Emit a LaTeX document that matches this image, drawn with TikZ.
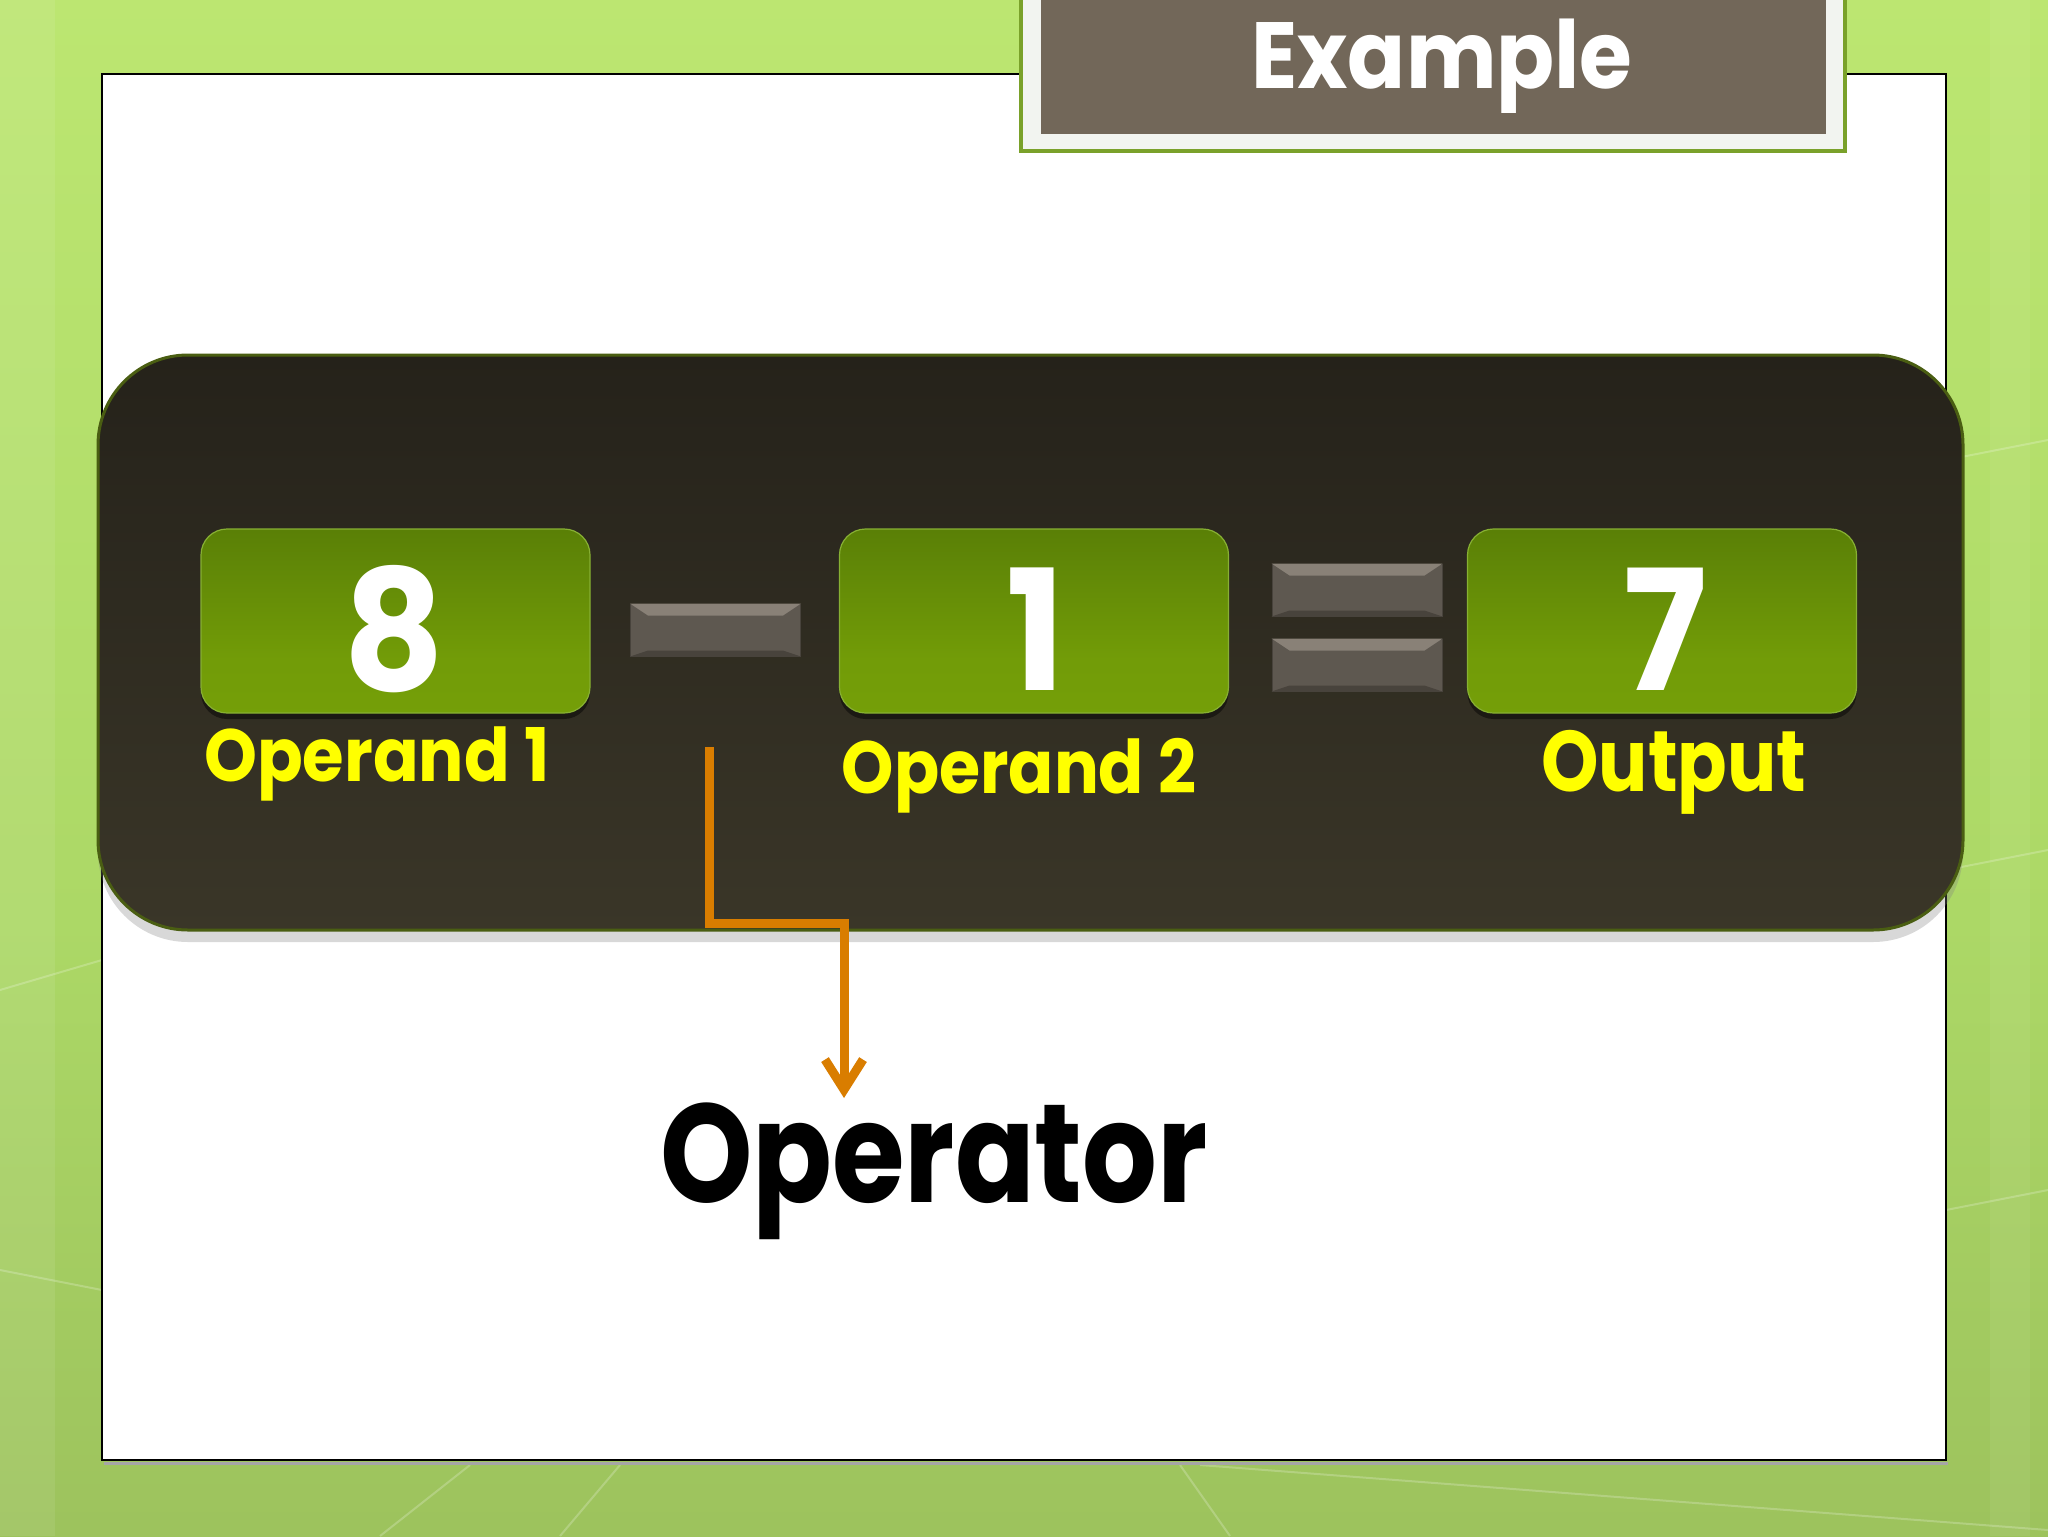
\documentclass[tikz,border=0pt]{standalone}
\usepackage{fontspec}
\usepackage{graphicx}
\setmainfont{Poppins}
\usetikzlibrary{arrows.meta,shadows}
\definecolor{bgtop}{HTML}{C9F27A}
\definecolor{bgmid}{HTML}{ACD866}
\definecolor{bgbot}{HTML}{8AA852}
\definecolor{exbrown}{HTML}{726759}
\definecolor{exframe}{HTML}{F2F4F0}
\definecolor{exgreen}{HTML}{7AA12A}
\definecolor{darktop}{HTML}{25221A}
\definecolor{darkbot}{HTML}{3A3628}
\definecolor{darkedge}{HTML}{4A5E12}
\definecolor{boxtop}{HTML}{557A06}
\definecolor{boxbot}{HTML}{79A408}
\definecolor{boxedge}{HTML}{8DB545}
\definecolor{bargray}{HTML}{5E5850}
\definecolor{barlight}{HTML}{898177}
\definecolor{bardark}{HTML}{48433C}
\definecolor{arrorange}{HTML}{D97D00}
\definecolor{lblyellow}{HTML}{FFFF00}
\pgfdeclareverticalshading{greenbox}{100bp}{color(0bp)=(boxbot); color(40bp)=(boxbot!80!boxtop); color(82bp)=(boxtop); color(92bp)=(boxtop!85!boxedge); color(100bp)=(boxedge)}
\pgfdeclareverticalshading{bgshade}{100bp}{color(0bp)=(bgbot); color(45bp)=(bgmid); color(100bp)=(bgtop)}
\tikzset{
  numbox/.style={rectangle, rounded corners=13pt, minimum width=194.5pt,
    minimum height=92pt, shading=greenbox,
    draw=boxedge!70!boxbot, line width=0.6pt, inner sep=0pt,
    drop shadow={shadow xshift=0pt, shadow yshift=-3pt, fill=black, opacity=0.45}},
  numtext/.style={text=white, font=\fontsize{84}{84}\selectfont\bfseries, inner sep=0pt, anchor=base},
  barbox/.style={rectangle, minimum width=85pt, minimum height=26pt,
    fill=bargray, draw=bardark, line width=0.5pt, inner sep=0pt},
  lbl/.style={text=lblyellow, font=\fontsize{37}{37}\selectfont\bfseries, inner sep=0pt, anchor=base},
  arr/.style={draw=arrorange, line width=4.5pt,
    -{Straight Barb[length=15pt,width=19pt]}}
}
\newcommand{\bevel}[1]{%
  \fill[barlight] (#1.north west) -- (#1.north east) -- ([xshift=-9pt,yshift=-6pt]#1.north east) -- ([xshift=9pt,yshift=-6pt]#1.north west) -- cycle;
  \fill[bardark] (#1.south west) -- (#1.south east) -- ([xshift=-9pt,yshift=3pt]#1.south east) -- ([xshift=9pt,yshift=3pt]#1.south west) -- cycle;
}
\newcommand{\sx}[2]{\scalebox{#1}[1]{#2}}
\begin{document}
\begin{tikzpicture}[x=0.5pt,y=-0.5pt]
\useasboundingbox (0,0) rectangle (2048,1536);
% background
\shade[shading=bgshade] (0,0) rectangle (2048,1536);
\fill[white, opacity=0.08] (0,0) rectangle (55,1536);
\fill[white, opacity=0.06] (1990,0) rectangle (2030,1536);
\foreach \a/\b/\c/\d in {0/990/102/960, 0/1270/102/1290, 380/1536/470/1465, 560/1536/620/1465, 1230/1536/1180/1465, 1200/1465/2048/1530, 1946/870/2048/850, 1946/1210/2048/1190, 1946/460/2048/440}
  \draw[white, opacity=0.22, line width=1pt] (\a,\b) -- (\c,\d);
% panel
\draw[gray!70, line width=1.5pt] (104,1463) -- (1948,1463);
\draw[black, line width=0.8pt, fill=white] (102,74) rectangle (1946,1460);
% example tab
\fill[exframe, draw=exgreen, line width=1.6pt] (1021,-10) rectangle (1845,151);
\fill[exbrown] (1041,-10) rectangle (1826,134);
\node[text=white, font=\fontsize{47}{47}\selectfont\bfseries, inner sep=0pt, anchor=base] (ex) at (1442,89) {\sx{0.91}{Example}};
% dark box
\shade[top color=darktop, bottom color=darkbot, draw=darkedge, line width=1.5pt,
  rounded corners=45pt,
  drop shadow={shadow xshift=0pt, shadow yshift=-6pt, opacity=0.3}]
  (98,355) rectangle (1963,930);
% number boxes
\node[numbox] (b1) at (395.5,621) {};
\node[numbox] (b2) at (1034,621) {};
\node[numbox] (b3) at (1662,621) {};
\node[numtext] (n1) at (394,690) {\sx{0.93}{8}};
\node[numtext] (n2) at (1036,690) {\sx{0.93}{1}};
\node[numtext] (n3) at (1665,690) {\sx{0.93}{7}};
% operators
\node[barbox] (minus) at (715.5,630) {};
\bevel{minus}
\node[barbox] (eqa) at (1357,590) {};
\bevel{eqa}
\node[barbox] (eqb) at (1357,665) {};
\bevel{eqb}
% labels
\node[lbl] (l1) at (377,781) {\sx{0.91}{Operand 1}};
\node[lbl] (l2) at (1019,793) {\sx{0.90}{Operand 2}};
\node[lbl, font=\fontsize{43}{43}\selectfont\bfseries] (l3) at (1674,791) {\sx{0.85}{Output}};
% operator label
\node[text=black, font=\fontsize{70}{70}\selectfont\bfseries, inner sep=0pt, anchor=base] (op) at (934,1202) {\sx{0.84}{Operator}};
\coordinate (src) at (709,747);
\coordinate (tip) at (844,1098);
\draw[arr] (src) -- (709,923) -- (844,923) -- (tip);
\end{tikzpicture}
\end{document}
